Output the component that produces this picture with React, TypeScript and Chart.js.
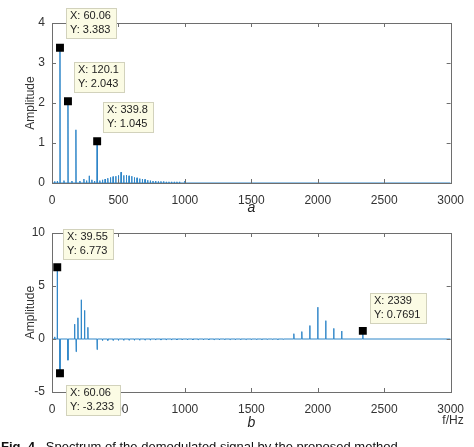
import React, { useEffect, useRef } from "react";
import { Chart, registerables } from "chart.js";
Chart.register(...registerables);

// ---------- data ----------
const xTickValues = [0, 500, 1000, 1500, 2000, 2500, 3000];
const aTickValues = [0, 1, 2, 3, 4];
const bTickValues = [-5, 0, 5, 10];

// panel a: spectrum peaks (Hz, amplitude)
const aFreq = [20, 40, 60.06, 90, 120.1, 150, 180, 210, 240, 260, 280, 300, 320, 339.8, 360, 380, 400, 420, 440, 460, 480, 500, 520, 540, 560, 580, 600, 620, 640, 660, 680, 700, 720, 740, 760, 780, 800, 820, 840, 860, 880, 900, 920, 940, 960, 1000];
const aAmp = [0.04, 0.05, 3.383, 0.06, 2.043, 0.05, 1.33, 0.05, 0.1, 0.06, 0.18, 0.08, 0.05, 1.045, 0.06, 0.08, 0.1, 0.12, 0.14, 0.16, 0.17, 0.19, 0.27, 0.19, 0.2, 0.18, 0.17, 0.14, 0.13, 0.11, 0.1, 0.09, 0.07, 0.06, 0.05, 0.05, 0.04, 0.04, 0.04, 0.03, 0.03, 0.03, 0.03, 0.03, 0.03, 0.05];
const aTipX = [60.06, 120.1, 339.8];
const aTipY = [3.383, 2.043, 1.045];

// panel b: spectrum peaks (Hz, amplitude)
const bFreq = [20, 39.55, 60.06, 120, 170, 182, 195, 220, 245, 270, 339.8, 380, 420, 460, 500, 540, 580, 620, 660, 700, 740, 780, 820, 860, 900, 940, 980, 1020, 1060, 1100, 1140, 1180, 1220, 1260, 1300, 1340, 1380, 1420, 1460, 1500, 1540, 1580, 1620, 1660, 1700, 1740, 1820, 1880, 1940, 2000, 2060, 2120, 2180, 2339];
const bAmp = [0.2, 6.773, -3.233, -2.0, 1.4, -1.2, 2.0, 3.7, 2.7, 1.1, -1.0, -0.15, -0.14, -0.14, -0.13, -0.13, -0.12, -0.12, -0.12, -0.11, -0.11, -0.1, -0.1, -0.1, -0.1, -0.09, -0.09, -0.09, -0.09, -0.08, -0.08, -0.08, -0.08, -0.08, -0.07, -0.07, -0.07, -0.07, -0.06, -0.06, -0.06, -0.05, -0.05, -0.05, -0.05, -0.04, 0.5, 0.7, 1.27, 3.0, 1.73, 1.0, 0.75, 0.7691];
const bTipX = [39.55, 60.06, 2339];
const bTipY = [6.773, -3.233, 0.7691];

// ---------- helpers ----------
const FONT = "'Liberation Sans', Arial, sans-serif";
const LINE = "#2f86c8";

function buildLine(freq: number[], amp: number[]) {
  const pts: { x: number; y: number }[] = [{ x: 0, y: 0 }];
  freq.forEach((f, i) => {
    pts.push({ x: f - 1.5, y: 0 });
    pts.push({ x: f, y: amp[i] });
    pts.push({ x: f + 1.5, y: 0 });
  });
  pts.push({ x: 3000, y: 0 });
  return pts;
}

type Tip = { dx: number; dy: number; below?: boolean };

function makePlugin(tipX: number[], tipY: number[], tipPos: Tip[], extraText?: { text: string; x: number; y: number }) {
  return {
    id: "matlabBox",
    afterDraw(chart: any) {
      const { ctx, chartArea: a, scales } = chart;
      const xs = scales.x;
      const ys = scales.y;
      ctx.save();
      ctx.strokeStyle = "#6e6e6e";
      ctx.lineWidth = 1;
      ctx.strokeRect(Math.round(a.left) + 0.5, Math.round(a.top) + 0.5, Math.round(a.right - a.left), Math.round(a.bottom - a.top));
      const tl = 4;
      ctx.beginPath();
      xs.ticks.forEach((t: any) => {
        const px = Math.round(xs.getPixelForValue(t.value)) + 0.5;
        ctx.moveTo(px, a.bottom);
        ctx.lineTo(px, a.bottom - tl);
        ctx.moveTo(px, a.top);
        ctx.lineTo(px, a.top + tl);
      });
      ys.ticks.forEach((t: any) => {
        const py = Math.round(ys.getPixelForValue(t.value)) + 0.5;
        ctx.moveTo(a.left, py);
        ctx.lineTo(a.left + tl, py);
        ctx.moveTo(a.right, py);
        ctx.lineTo(a.right - tl, py);
      });
      ctx.stroke();
      ctx.font = `11px ${FONT}`;
      tipX.forEach((vx, i) => {
        const vy = tipY[i];
        const px = xs.getPixelForValue(vx);
        const py = ys.getPixelForValue(vy);
        const l1 = `X: ${vx}`;
        const l2 = `Y: ${vy}`;
        const w = Math.ceil(Math.max(ctx.measureText(l1).width, ctx.measureText(l2).width)) + 9;
        const h = 30;
        const p = tipPos[i];
        const bx = Math.round(px + p.dx);
        const by = p.below ? Math.round(py + p.dy) : Math.round(py - p.dy - h);
        ctx.fillStyle = "#fbfbe4";
        ctx.fillRect(bx, by, w, h);
        ctx.strokeStyle = "#d2d2bc";
        ctx.strokeRect(bx + 0.5, by + 0.5, w, h);
        ctx.fillStyle = "#222";
        ctx.textAlign = "left";
        ctx.textBaseline = "middle";
        ctx.fillText(l1, bx + 4, by + 8);
        ctx.fillText(l2, bx + 4, by + 22);
      });
      if (extraText) {
        ctx.font = `12px ${FONT}`;
        ctx.fillStyle = "#333";
        ctx.textAlign = "center";
        ctx.textBaseline = "middle";
        ctx.fillText(extraText.text, extraText.x, extraText.y);
      }
      ctx.restore();
    },
  };
}

function makeConfig(opts: {
  freq: number[];
  amp: number[];
  tipX: number[];
  tipY: number[];
  yTicks: number[];
  title: string;
  padding: any;
  xHeight: number;
  titlePadBottom: number;
  plugin: any;
}) {
  const yMin = opts.yTicks[0];
  const yMax = opts.yTicks[opts.yTicks.length - 1];
  return {
    type: "scatter",
    data: {
      datasets: [
        {
          data: opts.tipX.map((x, i) => ({ x, y: opts.tipY[i] })),
          showLine: false,
          pointStyle: "rect",
          pointRadius: 5.6,
          backgroundColor: "#000",
          borderColor: "#000",
          borderWidth: 0,
        },
        {
          data: buildLine(opts.freq, opts.amp),
          showLine: true,
          borderColor: LINE,
          borderWidth: 1,
          pointRadius: 0,
          tension: 0,
        },
      ],
    },
    options: {
      animation: false,
      responsive: false,
      devicePixelRatio: 1,
      layout: { padding: opts.padding },
      plugins: { legend: { display: false }, tooltip: { enabled: false } },
      events: [],
      scales: {
        x: {
          type: "linear",
          min: 0,
          max: 3000,
          afterBuildTicks: (s: any) => {
            s.ticks = xTickValues.map((v) => ({ value: v }));
          },
          afterFit: (s: any) => {
            s.height = opts.xHeight;
          },
          grid: { display: false, drawTicks: false },
          border: { display: false },
          ticks: {
            padding: 10,
            color: "#333",
            font: { family: FONT, size: 12 },
            maxRotation: 0,
            callback: (v: any) => String(v),
          },
          title: {
            display: true,
            text: opts.title,
            color: "#222",
            font: { family: FONT, size: 14, style: "italic" },
            padding: { top: 0, bottom: opts.titlePadBottom },
          },
        },
        y: {
          type: "linear",
          min: yMin,
          max: yMax,
          ticks: { padding: 7, color: "#333", font: { family: FONT, size: 12 }, callback: (v: any) => String(v) },
          afterBuildTicks: (s: any) => {
            s.ticks = opts.yTicks.map((v) => ({ value: v }));
          },
          afterFit: (s: any) => {
            s.width = 52;
          },
          grid: { display: false, drawTicks: false },
          border: { display: false },
          title: {
            display: true,
            text: "Amplitude",
            color: "#333",
            font: { family: FONT, size: 12 },
            padding: { top: 23, bottom: 0 },
          },
        },
      },
    },
    plugins: [opts.plugin],
  } as any;
}

function Panel({ top, height, config }: { top: number; height: number; config: any }) {
  const ref = useRef<HTMLCanvasElement | null>(null);
  useEffect(() => {
    if (!ref.current) return;
    const c = new Chart(ref.current, config);
    return () => c.destroy();
  }, []);
  return (
    <canvas
      ref={ref}
      width={474}
      height={height}
      style={{ position: "absolute", left: 0, top, width: 474, height }}
    />
  );
}

export default function App() {
  const aCfg = makeConfig({
    freq: aFreq,
    amp: aAmp,
    tipX: aTipX,
    tipY: aTipY,
    yTicks: aTickValues,
    title: "a",
    padding: { top: 23, right: 15, left: 0, bottom: 0 },
    xHeight: 37,
    titlePadBottom: 3,
    plugin: makePlugin(aTipX, aTipY, [
      { dx: 6, dy: 10 },
      { dx: 6, dy: 9 },
      { dx: 6, dy: 9 },
    ]),
  });
  const bCfg = makeConfig({
    freq: bFreq,
    amp: bAmp,
    tipX: bTipX,
    tipY: bTipY,
    yTicks: bTickValues,
    title: "b",
    padding: { top: 18, right: 14, left: 0, bottom: 0 },
    xHeight: 43,
    titlePadBottom: 3,
    plugin: makePlugin(
      bTipX,
      bTipY,
      [
        { dx: 6, dy: 8 },
        { dx: 6, dy: 12, below: true },
        { dx: 7, dy: 8 },
      ],
      { text: "f/Hz", x: 453, y: 205.5 }
    ),
  });
  return (
    <div style={{ position: "absolute", left: 0, top: 0, width: 474, height: 447, overflow: "hidden", background: "#fff" }}>
      <Panel top={0} height={220} config={aCfg} />
      <Panel top={215} height={220} config={bCfg} />
      <div
        style={{
          position: "absolute",
          left: 1,
          top: 439,
          whiteSpace: "nowrap",
          font: `13px ${FONT}`,
          color: "#111",
        }}
      >
        <b>Fig. 4</b>&nbsp;&nbsp; Spectrum of the demodulated signal by the proposed method
      </div>
    </div>
  );
}
